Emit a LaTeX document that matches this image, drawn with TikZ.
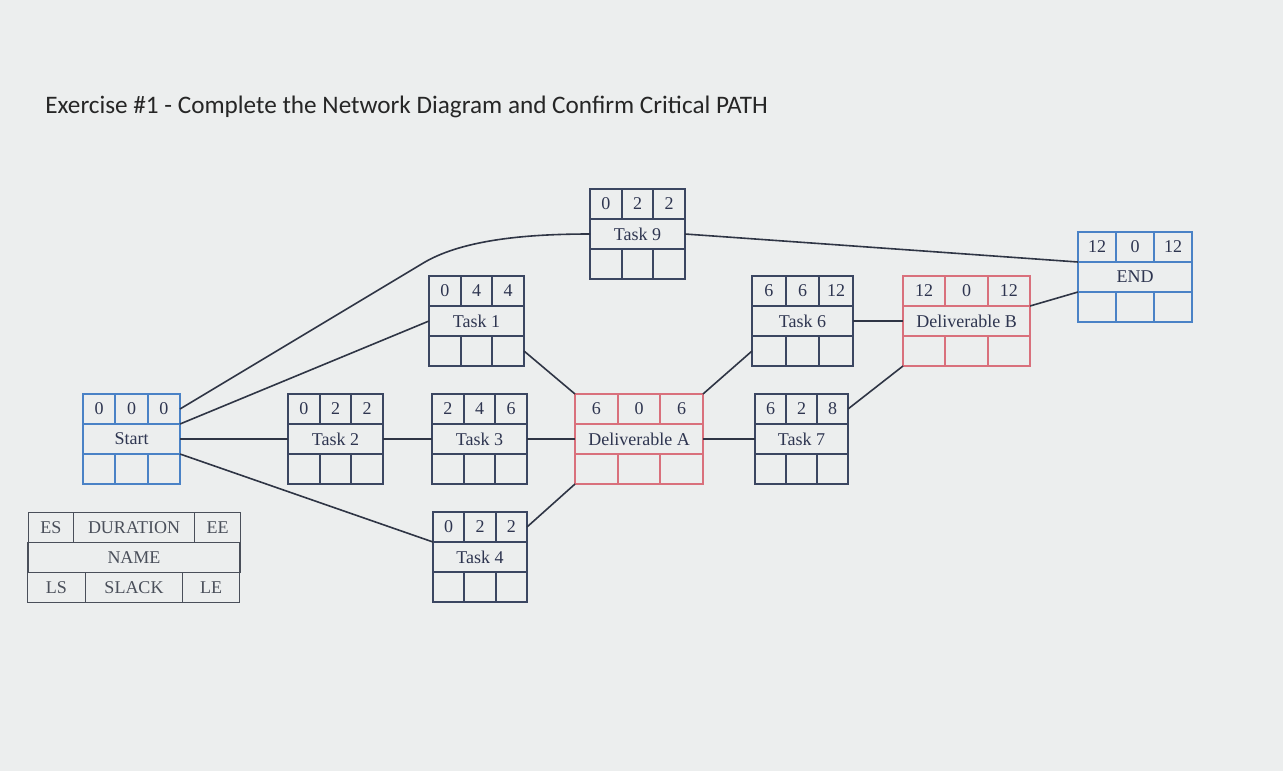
\documentclass[tikz,border=0pt]{standalone}
\usepackage{fontspec}
\setmainfont{Liberation Serif}
\newfontfamily\titlefont{Carlito}
\usetikzlibrary{positioning}

\definecolor{paper}{HTML}{ECEEEE}
\definecolor{taskc}{HTML}{3B4661}
\definecolor{startc}{HTML}{4A82C6}
\definecolor{delc}{HTML}{D9707C}
\definecolor{inkc}{HTML}{2E3550}
\definecolor{keyc}{HTML}{4A4F5A}
\definecolor{linkc}{HTML}{2F3545}

\newcommand{\boxfont}{\fontsize{9}{10}\selectfont}

% one activity box: name, centre of middle row, colour, width (pt), ES, duration, EF, label
\newcommand{\pertbox}[8]{%
  \node [cell, draw = #3, minimum width = #4pt] (#1-m) at (#2) {#8};
  \node [cell, draw = #3, minimum width = #4pt/3] (#1-du) [above=0pt of #1-m] {#6};
  \node [cell, draw = #3, minimum width = #4pt/3] (#1-es) [left=0pt of #1-du] {#5};
  \node [cell, draw = #3, minimum width = #4pt/3] (#1-ef) [right=0pt of #1-du] {#7};
  \node [cell, draw = #3, minimum width = #4pt/3] (#1-sl) [below=0pt of #1-m] {};
  \node [cell, draw = #3, minimum width = #4pt/3] (#1-ls) [left=0pt of #1-sl] {};
  \node [cell, draw = #3, minimum width = #4pt/3] (#1-lf) [right=0pt of #1-sl] {};
}

\begin{document}
\begin{tikzpicture}
    [ x = .5pt, y = -.5pt
    , cell/.style =
      { draw, inner sep = 0pt, outer sep = 0pt, minimum height = 15pt
      , line width = .9pt, text = inkc, font = \boxfont }
    , keycell/.style =
      { cell, draw = keyc, text = keyc }
    , link/.style =
      { draw = linkc, line width = .8pt }
    , title/.style =
      { anchor = base west, inner sep = 0pt, text = black!85
      , font = \titlefont\fontsize{12.6}{15}\selectfont }
    ]
    \fill [paper] (0,0) rectangle (1283,771);
    \useasboundingbox (0,0) rectangle (1283,771);

    \node [title] (title) at (45,113)
      {Exercise \#1 - Complete the Network Diagram and Confirm Critical PATH};

    \pertbox{start}{131.5,439}{startc}{48.5}{0}{0}{0}{Start}
    \pertbox{task9}{637.5,234}{taskc}{47.5}{0}{2}{2}{Task 9}
    \pertbox{task1}{476.5,321}{taskc}{47.5}{0}{4}{4}{Task 1}
    \pertbox{task2}{335.5,439}{taskc}{47.5}{0}{2}{2}{Task 2}
    \pertbox{task3}{479.5,439}{taskc}{47.5}{2}{4}{6}{Task 3}
    \pertbox{task4}{480,557}{taskc}{47}{0}{2}{2}{Task 4}
    \pertbox{dela}{639,439}{delc}{64}{6}{0}{6}{Deliverable A}
    \pertbox{task6}{802.5,321}{taskc}{50.5}{6}{6}{12}{Task 6}
    \pertbox{task7}{801.5,439}{taskc}{46.5}{6}{2}{8}{Task 7}
    \pertbox{delb}{966.5,321}{delc}{63.5}{12}{0}{12}{Deliverable B}
    \pertbox{end}{1135,277}{startc}{57}{12}{0}{12}{END}

    % key
    \node [keycell, minimum width = 106pt] (key-m) at (134,557.5) {NAME};
    \node [keycell, minimum width = 60.5pt] (key-du) [above=0pt of key-m] {DURATION};
    \node [keycell, minimum width = 22.5pt] (key-es) [left=0pt of key-du] {ES};
    \node [keycell, minimum width = 23pt] (key-ee) [right=0pt of key-du] {EE};
    \node [keycell, minimum width = 48.5pt] (key-sl) [below=0pt of key-m] {SLACK};
    \node [keycell, minimum width = 29pt] (key-ls) [left=0pt of key-sl] {LS};
    \node [keycell, minimum width = 28.5pt] (key-le) [right=0pt of key-sl] {LE};

    \coordinate (bend9) at (425,262);
    \draw [link] (start-ef.east) -- (bend9)
      .. controls (465,239) and (530,234) .. (task9-m.west);
    \draw [link] (start-m.north east) -- (task1-m.west);
    \draw [link] (start-m.east) -- (task2-m.west);
    \draw [link] (start-m.south east) -- (task4-m.north west);
    \draw [link] (task2-m.east) -- (task3-m.west);
    \draw [link] (task3-m.east) -- (dela-m.west);
    \draw [link] (task1-lf.east) -- (dela-es.north west);
    \draw [link] (task4-ef.east) -- (dela-ls.south west);
    \draw [link] (dela-ef.north east) -- (task6-ls.west);
    \draw [link] (dela-m.east) -- (task7-m.west);
    \draw [link] (task6-m.east) -- (delb-m.west);
    \draw [link] (task7-ef.east) -- (delb-ls.south west);
    \draw [link] (delb-m.north east) -- (end-m.south west);
    \draw [link] (task9-m.east) -- (end-m.north west);
\end{tikzpicture}
\end{document}
